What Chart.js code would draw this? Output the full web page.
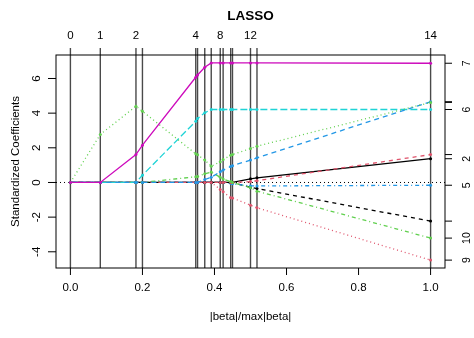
<!DOCTYPE html>
<html lang="en">
<head>
<meta charset="UTF-8">
<title>LASSO</title>
<script src="https://cdn.jsdelivr.net/npm/chart.js"></script>
<style>
  html, body { margin: 0; padding: 0; background: #fff; }
</style>
</head>
<body>
<canvas id="lassoChart" width="474" height="338"></canvas>
<script>
// breakpoints of the path (|beta|/max|beta|)
const steps = [0, 0.083, 0.182, 0.200, 0.348, 0.353, 0.373, 0.391, 0.416, 0.424, 0.445, 0.450, 0.500, 0.518, 1.0];
const topLabels = ['0', '1', '2', '', '4', '', '', '', '8', '', '', '', '12', '', '14'];
const yTicks = [-4, -2, 0, 2, 4, 6];
const xTicks = [0, 0.2, 0.4, 0.6, 0.8, 1.0];

// coefficient paths, one value per breakpoint
const coef7  = [0, 0, 1.61, 2.15, 6.07, 6.20, 6.65, 6.90, 6.90, 6.90, 6.90, 6.90, 6.90, 6.90, 6.88];
const coef3  = [0, 2.77, 4.40, 4.11, 1.65, 1.60, 1.29, 0.94, 1.19, 1.33, 1.57, 1.61, 1.96, 2.09, 4.62];
const coef4  = [0, 0, 0, 0, 0, 0, 0.17, 0.30, 0.62, 0.72, 0.92, 0.97, 1.29, 1.42, 4.66];
const coef6  = [0, 0, 0, 0.42, 3.53, 3.69, 4.02, 4.21, 4.21, 4.21, 4.21, 4.21, 4.21, 4.21, 4.21];
const coef10 = [0, 0, 0, 0, 0.33, 0.34, 0.50, 0.60, 0.30, 0.20, 0.05, 0, -0.30, -0.50, -3.21];
const coef1b = [0, 0, 0, 0, 0, 0, 0, 0, 0, 0, 0, 0, 0.05, 0.10, 1.61];
const coef2  = [0, 0, 0, 0, 0, 0, 0, 0, 0, 0, 0, 0, 0.21, 0.27, 1.37];
const coef5  = [0, 0, 0, 0, 0, 0, 0, 0, 0, 0, -0.05, -0.08, -0.20, -0.20, -0.16];
const coef8  = [0, 0, 0, 0, 0, 0, 0, 0, 0, 0, 0, 0, -0.28, -0.35, -2.23];
const coef9  = [0, 0, 0, 0, 0, 0, 0, 0, -0.40, -0.54, -0.88, -0.90, -1.31, -1.46, -4.48];

const paths = [
  { label: '7',  values: coef7,  color: '#CD0BBC', dash: [] },
  { label: '',   values: coef3,  color: '#61D04F', dash: [1, 3] },
  { label: '',   values: coef4,  color: '#2297E6', dash: [5, 4] },
  { label: '6',  values: coef6,  color: '#1FD3D6', dash: [7, 3] },
  { label: '10', values: coef10, color: '#61D04F', dash: [1, 3, 4, 3] },
  { label: '',   values: coef1b, color: '#DF536B', dash: [4, 4] },
  { label: '2',  values: coef2,  color: '#000000', dash: [] },
  { label: '5',  values: coef5,  color: '#2297E6', dash: [1, 3, 4, 3] },
  { label: '',   values: coef8,  color: '#000000', dash: [4, 4] },
  { label: '9',  values: coef9,  color: '#DF536B', dash: [1, 3] }
];

// R style 4% range extension
const allVals = paths.flatMap(p => p.values);
const yLo = Math.min(...allVals), yHi = Math.max(...allVals);
const yPad = (yHi - yLo) * 0.04;

const FONT = '"Liberation Sans", Arial, Helvetica, sans-serif';

const rAxes = {
  id: 'rAxes',
  beforeDatasetsDraw(chart) {
    const { ctx, chartArea: a, scales: { x, y } } = chart;
    ctx.save();
    // vertical lines at each step (with top ticks)
    ctx.strokeStyle = '#4a4a4a';
    ctx.lineWidth = 1.4;
    steps.forEach(s => {
      const px = x.getPixelForValue(s);
      ctx.beginPath();
      ctx.moveTo(px, a.top - 7);
      ctx.lineTo(px, a.bottom);
      ctx.stroke();
    });
    // zero line
    ctx.strokeStyle = '#000';
    ctx.lineWidth = 1;
    ctx.setLineDash([1, 3]);
    ctx.beginPath();
    ctx.moveTo(a.left, y.getPixelForValue(0));
    ctx.lineTo(a.right, y.getPixelForValue(0));
    ctx.stroke();
    ctx.restore();
  },
  afterDraw(chart) {
    const { ctx, chartArea: a, scales: { x, y } } = chart;
    ctx.save();
    ctx.strokeStyle = '#000';
    ctx.fillStyle = '#000';
    ctx.lineWidth = 1;
    ctx.strokeRect(a.left, a.top, a.right - a.left, a.bottom - a.top);

    // bottom axis
    ctx.font = '11.5px ' + FONT;
    ctx.textAlign = 'center';
    ctx.textBaseline = 'middle';
    xTicks.forEach(t => {
      const px = x.getPixelForValue(t);
      ctx.beginPath();
      ctx.moveTo(px, a.bottom);
      ctx.lineTo(px, a.bottom + 7);
      ctx.stroke();
      ctx.fillText(t.toFixed(1), px, a.bottom + 20);
    });
    ctx.fillText('|beta|/max|beta|', (a.left + a.right) / 2, a.bottom + 49);

    // top axis labels
    steps.forEach((s, i) => {
      if (topLabels[i]) ctx.fillText(topLabels[i], x.getPixelForValue(s), a.top - 19);
    });

    // left axis
    yTicks.forEach(t => {
      const py = y.getPixelForValue(t);
      ctx.beginPath();
      ctx.moveTo(a.left, py);
      ctx.lineTo(a.left - 8, py);
      ctx.stroke();
      ctx.save();
      ctx.translate(a.left - 19, py);
      ctx.rotate(-Math.PI / 2);
      ctx.fillText(String(t), 0, 0);
      ctx.restore();
    });
    ctx.save();
    ctx.translate(16, (a.top + a.bottom) / 2);
    ctx.rotate(-Math.PI / 2);
    ctx.fillText('Standardized Coefficients', 0, 0);
    ctx.restore();

    // right axis: final coefficient of each path
    ctx.font = '10.5px ' + FONT;
    paths.forEach(p => {
      const py = y.getPixelForValue(p.values[p.values.length - 1]);
      ctx.beginPath();
      ctx.moveTo(a.right, py);
      ctx.lineTo(a.right + 7, py);
      ctx.stroke();
      if (p.label) {
        ctx.save();
        ctx.translate(a.right + 22, py);
        ctx.rotate(-Math.PI / 2);
        ctx.fillText(p.label, 0, 0);
        ctx.restore();
      }
    });

    // title
    ctx.font = 'bold 13.5px ' + FONT;
    ctx.fillText('LASSO', (a.left + a.right) / 2, 16);
    ctx.restore();
  }
};

new Chart(document.getElementById('lassoChart'), {
  type: 'scatter',
  data: {
    datasets: paths.map(p => ({
      data: steps.map((s, i) => ({ x: s, y: p.values[i] })),
      showLine: true,
      borderColor: p.color,
      backgroundColor: p.color,
      borderWidth: 1.3,
      borderDash: p.dash,
      pointRadius: 1.5,
      pointBorderWidth: 0,
      tension: 0
    }))
  },
  options: {
    responsive: false,
    animation: false,
    layout: { padding: { left: 56, top: 55, right: 29, bottom: 70 } },
    plugins: { legend: { display: false }, tooltip: { enabled: false } },
    scales: {
      x: { type: 'linear', min: -0.04, max: 1.04, display: false },
      y: { type: 'linear', min: yLo - yPad, max: yHi + yPad, display: false }
    }
  },
  plugins: [rAxes]
});
</script>
</body>
</html>
